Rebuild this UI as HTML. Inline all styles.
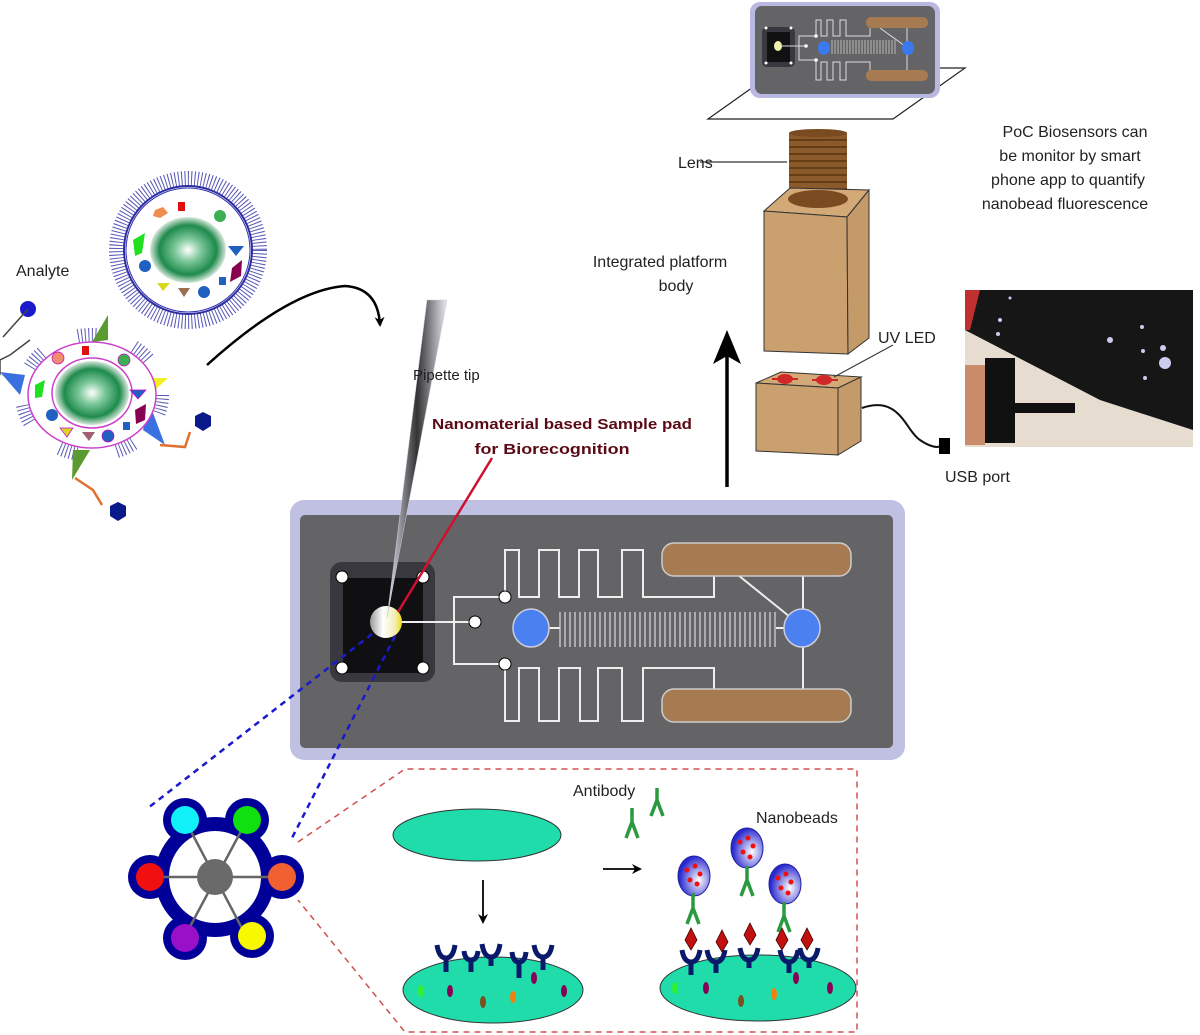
<!DOCTYPE html>
<html><head><meta charset="utf-8"><style>
html,body{margin:0;padding:0;background:#fff;}
svg{display:block;}
text{font-family:"Liberation Sans",sans-serif;}
</style></head><body>
<svg width="1200" height="1035" viewBox="0 0 1200 1035" xmlns="http://www.w3.org/2000/svg">
<defs>
<radialGradient id="core" cx="50%" cy="50%" r="50%"><stop offset="0" stop-color="#fff"/><stop offset="0.35" stop-color="#7cc79a"/><stop offset="0.75" stop-color="#1e8a4c"/><stop offset="1" stop-color="#d8e8dc"/></radialGradient>
<linearGradient id="pip" x1="0" x2="1"><stop offset="0" stop-color="#e0e0ee"/><stop offset="0.5" stop-color="#333"/><stop offset="1" stop-color="#e8e8f2"/></linearGradient>
<linearGradient id="padc" x1="0" x2="1"><stop offset="0" stop-color="#999"/><stop offset="0.4" stop-color="#fff"/><stop offset="0.8" stop-color="#f2ecb0"/><stop offset="1" stop-color="#ece000"/></linearGradient>
<radialGradient id="bead" cx="65%" cy="60%" r="60%"><stop offset="0" stop-color="#fff"/><stop offset="1" stop-color="#2a2ad0"/></radialGradient>
<linearGradient id="photo" x1="0" y1="0" x2="1" y2="1"><stop offset="0" stop-color="#2a2a2a"/><stop offset="1" stop-color="#e8e0d4"/></linearGradient>
<marker id="ah" markerWidth="10" markerHeight="10" refX="8" refY="5" orient="auto" markerUnits="userSpaceOnUse"><path d="M0,0 L10,5 L0,10 L3,5 z" fill="#000"/></marker>
</defs>

<!-- Analyte top particle -->
<g>
<circle cx="188" cy="250" r="70" fill="none" stroke="#5a5ab8" stroke-width="18" stroke-dasharray="1 2.2"/>
<circle cx="188" cy="250" r="64" fill="#fff" stroke="#2d2da0" stroke-width="2"/>
<circle cx="188" cy="250" r="62" fill="none" stroke="#3030b0" stroke-width="1"/>
<ellipse cx="188" cy="250" rx="38" ry="33" fill="url(#core)"/>
<rect x="178" y="202" width="7" height="9" fill="#e01010"/>
<polygon points="155,210 163,207 168,213 160,218 153,216" fill="#f08c50"/>
<circle cx="220" cy="216" r="6" fill="#3cb050"/>
<polygon points="133,240 145,233 142,253 135,256" fill="#20e020"/>
<polygon points="228,246 244,246 236,256" fill="#2060c0"/>
<polygon points="232,268 242,260 241,276 230,282" fill="#8a0050"/>
<circle cx="145" cy="266" r="6" fill="#2060c0"/>
<polygon points="157,283 170,283 163,291" fill="#d8d820"/>
<polygon points="178,288 190,288 184,297" fill="#9a7050"/>
<circle cx="204" cy="292" r="6" fill="#2060c0"/>
<rect x="219" y="277" width="7" height="8" fill="#2060c0"/>
</g>
<text x="16" y="276" font-size="16" fill="#222">Analyte</text>

<!-- Analyte bottom particle -->
<g>
<ellipse cx="92" cy="395" rx="70" ry="60" fill="none" stroke="#5a5ab8" stroke-width="14" stroke-dasharray="1 2.5 1 2.5 1 2.5 1 2.5 1 2.5 1 40"/>
<polygon points="92,342 108,315 108,340" fill="#5a9a30"/>
<polygon points="73,450 90,450 72,480" fill="#5a9a30"/>
<polygon points="0,372 25,375 20,395" fill="#3a70e0"/>
<polygon points="143,430 150,405 165,445" fill="#3a70e0"/>
<polygon points="150,378 168,378 155,390" fill="#f0f020"/>
<polyline points="30,340 10,355 0,360 0,375" fill="none" stroke="#444" stroke-width="1.5"/>
<circle cx="28" cy="309" r="8" fill="#1a1acc"/>
<line x1="28" y1="309" x2="3" y2="337" stroke="#444" stroke-width="1.5"/>
<polyline points="160,445 185,447 190,432" fill="none" stroke="#e07030" stroke-width="2.5"/>
<polygon points="203,412 211,416 211,426 203,431 195,426 195,416" fill="#0a1a8a"/>
<polyline points="75,478 93,490 102,505" fill="none" stroke="#e07030" stroke-width="2.5"/>
<polygon points="118,502 126,506 126,516 118,521 110,516 110,506" fill="#0a1a8a"/>
<ellipse cx="92" cy="395" rx="64" ry="53" fill="#fff" stroke="#cc40cc" stroke-width="1.5"/>
<ellipse cx="92" cy="393" rx="40" ry="35" fill="none" stroke="#cc40cc" stroke-width="1.5"/>
<ellipse cx="92" cy="393" rx="37" ry="32" fill="url(#core)"/>
<rect x="82" y="346" width="7" height="9" fill="#e01010"/>
<circle cx="58" cy="358" r="6" fill="#f08c70" stroke="#c0c" stroke-width="0.7"/>
<circle cx="124" cy="360" r="6" fill="#3cb050" stroke="#c0c" stroke-width="0.7"/>
<polygon points="35,385 45,380 42,397 35,398" fill="#20e020"/>
<polygon points="130,390 146,390 138,399" fill="#2060c0" stroke="#c0c" stroke-width="0.7"/>
<polygon points="135,410 146,404 145,420 136,424" fill="#8a0050"/>
<circle cx="52" cy="415" r="6" fill="#2060c0"/>
<polygon points="60,428 73,428 67,437" fill="#d8d820" stroke="#c0c" stroke-width="0.7"/>
<polygon points="82,432 95,432 89,441" fill="#a06070"/>
<circle cx="108" cy="436" r="6" fill="#2060c0" stroke="#c0c" stroke-width="0.7"/>
<rect x="123" y="422" width="7" height="8" fill="#2060c0"/>
</g>

<!-- curved arrow -->
<path d="M207,365 Q290,290 345,286 Q378,288 380,325" fill="none" stroke="#000" stroke-width="2.5" marker-end="url(#ah)"/>

<!-- Chip -->
<rect x="290" y="500" width="615" height="260" rx="14" fill="#c0c0e2"/>
<rect x="300" y="515" width="593" height="233" rx="5" fill="#646466"/>
<rect x="330" y="562" width="105" height="120" rx="12" fill="#38383e"/>
<rect x="343" y="578" width="80" height="95" fill="#101012"/>
<circle cx="342" cy="577" r="6" fill="#fff" stroke="#000"/>
<circle cx="423" cy="577" r="6" fill="#fff" stroke="#000"/>
<circle cx="342" cy="668" r="6" fill="#fff" stroke="#000"/>
<circle cx="423" cy="668" r="6" fill="#fff" stroke="#000"/>
<g stroke="#eee" stroke-width="2" fill="none">
<line x1="400" y1="622" x2="475" y2="622"/>
<polyline points="505,597 454,597 454,664 505,664"/>
<path d="M505,597 V550 H519 V597 H539 V550 H559 V597 H579 V550 H598 V597 H622 V550 H643 V597 H714 V575"/>
<path d="M505,664 V721 H519 V668 H539 V721 H559 V668 H580 V721 H598 V668 H622 V721 H643 V668 H714 V689"/>
<line x1="738" y1="575" x2="800" y2="625"/>
<line x1="803" y1="575" x2="803" y2="689"/>
<line x1="548" y1="628" x2="560" y2="628"/>
<line x1="776" y1="628" x2="785" y2="628"/>
</g>
<g stroke="#ddd" stroke-width="1.2">
<path d="M560,612V647M565,612V647M570,612V647M575,612V647M580,612V647M585,612V647M590,612V647M595,612V647M600,612V647M605,612V647M610,612V647M615,612V647M620,612V647M625,612V647M630,612V647M635,612V647M640,612V647M645,612V647M650,612V647M655,612V647M660,612V647M665,612V647M670,612V647M675,612V647M680,612V647M685,612V647M690,612V647M695,612V647M700,612V647M705,612V647M710,612V647M715,612V647M720,612V647M725,612V647M730,612V647M735,612V647M740,612V647M745,612V647M750,612V647M755,612V647M760,612V647M765,612V647M770,612V647M775,612V647"/>
</g>
<circle cx="475" cy="622" r="6" fill="#fff" stroke="#000"/>
<circle cx="505" cy="597" r="6" fill="#fff" stroke="#000"/>
<circle cx="505" cy="664" r="6" fill="#fff" stroke="#000"/>
<ellipse cx="531" cy="628" rx="18" ry="19" fill="#4a80f0" stroke="#ccd" stroke-width="1.5"/>
<ellipse cx="802" cy="628" rx="18" ry="19" fill="#4a80f0" stroke="#ccd" stroke-width="1.5"/>
<rect x="662" y="543" width="189" height="33" rx="12" fill="#a67b52" stroke="#ccc" stroke-width="1.5"/>
<rect x="662" y="689" width="189" height="33" rx="12" fill="#a67b52" stroke="#ccc" stroke-width="1.5"/>
<circle cx="386" cy="622" r="16" fill="url(#padc)"/>

<!-- pipette -->
<polygon points="427,300 447,300 387,618" fill="url(#pip)" stroke="#ccd" stroke-width="0.5"/>
<line x1="492" y1="458" x2="398" y2="612" stroke="#d01030" stroke-width="2.5"/>
<text x="413" y="380" font-size="15" fill="#222">Pipette tip</text>
<text x="562" y="429" font-size="15" font-weight="bold" fill="#5a0a14" text-anchor="middle" textLength="260" lengthAdjust="spacingAndGlyphs">Nanomaterial based Sample pad</text>
<text x="552" y="454" font-size="15" font-weight="bold" fill="#5a0a14" text-anchor="middle" textLength="155" lengthAdjust="spacingAndGlyphs">for Biorecognition</text>

<!-- blue dashed -->
<line x1="372" y1="634" x2="148" y2="808" stroke="#1a1acc" stroke-width="2.5" stroke-dasharray="6 5"/>
<line x1="395" y1="636" x2="292" y2="838" stroke="#1a1acc" stroke-width="2.5" stroke-dasharray="6 5"/>

<!-- hexagon wheel -->
<g>
<circle cx="215" cy="877" r="60" fill="#000099"/>
<circle cx="185" cy="820" r="22" fill="#000099"/><circle cx="247" cy="820" r="22" fill="#000099"/>
<circle cx="282" cy="877" r="22" fill="#000099"/><circle cx="252" cy="936" r="22" fill="#000099"/>
<circle cx="185" cy="938" r="22" fill="#000099"/><circle cx="150" cy="877" r="22" fill="#000099"/>
<circle cx="215" cy="877" r="46" fill="#fff"/>
<g stroke="#666" stroke-width="2.5"><line x1="185" y1="820" x2="245" y2="934"/><line x1="247" y1="820" x2="185" y2="936"/><line x1="150" y1="877" x2="282" y2="877"/></g>
<circle cx="215" cy="877" r="18" fill="#6a6a6a"/>
<circle cx="185" cy="820" r="14" fill="#10f0f8"/><circle cx="247" cy="820" r="14" fill="#10e010"/>
<circle cx="282" cy="877" r="14" fill="#f06030"/><circle cx="252" cy="936" r="14" fill="#f8f800"/>
<circle cx="185" cy="938" r="14" fill="#9a10c8"/><circle cx="150" cy="877" r="14" fill="#f01010"/>
</g>

<!-- red dashed box -->
<g stroke="#d05050" stroke-width="1.5" stroke-dasharray="6 5" fill="none">
<polyline points="298,842 405,769 857,769 857,1032 405,1032 298,900"/>
</g>
<ellipse cx="477" cy="835" rx="84" ry="26" fill="#20dcaa" stroke="#333"/>
<line x1="483" y1="880" x2="483" y2="922" stroke="#000" stroke-width="1.8" marker-end="url(#ah)"/>
<line x1="603" y1="869" x2="640" y2="869" stroke="#000" stroke-width="1.8" marker-end="url(#ah)"/>
<ellipse cx="493" cy="990" rx="90" ry="33" fill="#20dcaa" stroke="#333"/>
<ellipse cx="758" cy="988" rx="98" ry="33" fill="#20dcaa" stroke="#333"/>
<g fill="#880055"><ellipse cx="450" cy="991" rx="3" ry="6"/><ellipse cx="534" cy="978" rx="3" ry="6"/><ellipse cx="564" cy="991" rx="3" ry="6"/><ellipse cx="706" cy="988" rx="3" ry="6"/><ellipse cx="796" cy="978" rx="3" ry="6"/><ellipse cx="830" cy="988" rx="3" ry="6"/></g>
<g fill="#7a5020"><ellipse cx="483" cy="1002" rx="3" ry="6"/><ellipse cx="741" cy="1001" rx="3" ry="6"/></g>
<g fill="#f08010"><ellipse cx="513" cy="997" rx="3" ry="6"/><ellipse cx="774" cy="994" rx="3" ry="6"/></g>
<g fill="#30f030"><ellipse cx="421" cy="991" rx="3" ry="6"/><ellipse cx="675" cy="988" rx="3" ry="6"/></g>
<!-- navy Y antibodies -->
<g stroke="#0a1a6a" stroke-width="5" fill="none" stroke-linecap="butt">
<path d="M437,945 Q439,958 446,958 Q453,958 455,945 M446,958 V972"/>
<path d="M464,951 Q465,960 471,960 Q477,960 478,951 M471,960 V972"/>
<path d="M482,944 Q484,957 491,957 Q498,957 500,944 M491,957 V966"/>
<path d="M512,952 Q513,962 519,962 Q525,962 526,952 M519,962 V978"/>
<path d="M534,945 Q536,957 543,957 Q550,957 552,945 M543,957 V970"/>
<path d="M682,950 Q684,962 691,962 Q698,962 700,950 M691,962 V975"/>
<path d="M707,950 Q709,962 716,962 Q723,962 725,950 M716,962 V973"/>
<path d="M740,948 Q742,960 749,960 Q756,960 758,948 M749,960 V968"/>
<path d="M780,950 Q782,962 789,962 Q796,962 798,950 M789,962 V973"/>
<path d="M800,948 Q802,960 809,960 Q816,960 818,948 M809,960 V968"/>
</g>
<g fill="#c01010" stroke="#400" stroke-width="0.8">
<polygon points="691,928 697,940 691,950 685,940"/><polygon points="722,930 728,942 722,952 716,942"/>
<polygon points="750,923 756,935 750,945 744,935"/><polygon points="782,928 788,940 782,950 776,940"/>
<polygon points="807,928 813,940 807,950 801,940"/>
</g>
<!-- beads -->
<ellipse cx="694" cy="876" rx="16" ry="20" fill="url(#bead)" stroke="#2020a0"/>
<ellipse cx="747" cy="848" rx="16" ry="20" fill="url(#bead)" stroke="#2020a0"/>
<ellipse cx="785" cy="884" rx="16" ry="20" fill="url(#bead)" stroke="#2020a0"/>
<g fill="#f01010"><circle cx="687" cy="870" r="2.5"/><circle cx="695" cy="866" r="2.5"/><circle cx="700" cy="874" r="2.5"/><circle cx="690" cy="880" r="2.5"/><circle cx="697" cy="884" r="2.5"/>
<circle cx="740" cy="842" r="2.5"/><circle cx="748" cy="838" r="2.5"/><circle cx="753" cy="846" r="2.5"/><circle cx="743" cy="852" r="2.5"/><circle cx="750" cy="857" r="2.5"/>
<circle cx="778" cy="878" r="2.5"/><circle cx="786" cy="874" r="2.5"/><circle cx="791" cy="882" r="2.5"/><circle cx="781" cy="888" r="2.5"/><circle cx="788" cy="893" r="2.5"/></g>
<g stroke="#2a9a40" stroke-width="3.5" fill="none">
<path d="M693,893 V908 M693,908 L687,924 M693,908 L699,924"/>
<path d="M747,866 V880 M747,880 L741,896 M747,880 L753,896"/>
<path d="M784,902 V916 M784,916 L778,932 M784,916 L790,932"/>
<path d="M632,826 V840 M632,840 L626,856 M632,840 L638,856" transform="translate(0,-18)"/>
<path d="M657,788 V800 M657,800 L651,816 M657,800 L663,816"/>
</g>
<text x="573" y="796" font-size="16" fill="#222">Antibody</text>
<text x="756" y="823" font-size="16" fill="#222">Nanobeads</text>

<!-- Top device -->
<polygon points="708,119 893,119 965,68 780,68" fill="#fff" stroke="#222" stroke-width="1.2"/>
<rect x="750" y="2" width="190" height="96" rx="10" fill="#b8b8e0"/>
<rect x="755" y="6" width="180" height="88" rx="7" fill="#646466"/>
<rect x="762" y="27" width="33" height="40" rx="5" fill="#38383e"/>
<rect x="767" y="32" width="23" height="30" fill="#111"/>
<ellipse cx="778" cy="46" rx="4" ry="5" fill="#f0f0b0"/>
<g stroke="#ddd" stroke-width="1" fill="none">
<line x1="782" y1="46" x2="806" y2="46"/><polyline points="816,36 799,36 799,60 816,60"/>
<path d="M816,36 V20 H821 V36 H827 V20 H833 V36 H840 V20 H846 V36 H870 V28"/>
<path d="M816,60 V80 H821 V62 H827 V80 H833 V62 H840 V80 H846 V62 H870 V72"/>
<line x1="880" y1="28" x2="905" y2="46"/><line x1="907" y1="28" x2="907" y2="72"/>
</g>
<rect x="828" y="49" width="70" height="0" stroke="#ccc"/>
<g stroke="#ccc" stroke-width="0.8"><path d="M832,40V54M835,40V54M838,40V54M841,40V54M844,40V54M847,40V54M850,40V54M853,40V54M856,40V54M859,40V54M862,40V54M865,40V54M868,40V54M871,40V54M874,40V54M877,40V54M880,40V54M883,40V54M886,40V54M889,40V54M892,40V54M895,40V54"/></g>
<ellipse cx="824" cy="48" rx="6" ry="7" fill="#3a7af0"/><ellipse cx="908" cy="48" rx="6" ry="7" fill="#3a7af0"/>
<rect x="866" y="17" width="62" height="11" rx="5" fill="#a67b52"/>
<rect x="866" y="70" width="62" height="11" rx="5" fill="#a67b52"/>
<g fill="#fff"><circle cx="766" cy="28" r="1.5"/><circle cx="791" cy="28" r="1.5"/><circle cx="766" cy="63" r="1.5"/><circle cx="791" cy="63" r="1.5"/><circle cx="806" cy="46" r="1.8"/><circle cx="816" cy="36" r="1.8"/><circle cx="816" cy="60" r="1.8"/></g>

<!-- lens -->
<rect x="789" y="133" width="58" height="68" fill="#8b5a2b"/>
<g stroke="#5a3510" stroke-width="1.5"><line x1="789" y1="140" x2="847" y2="140"/><line x1="789" y1="147" x2="847" y2="147"/><line x1="789" y1="154" x2="847" y2="154"/><line x1="789" y1="161" x2="847" y2="161"/><line x1="789" y1="168" x2="847" y2="168"/><line x1="789" y1="175" x2="847" y2="175"/><line x1="789" y1="182" x2="847" y2="182"/><line x1="789" y1="189" x2="847" y2="189"/></g>
<ellipse cx="818" cy="133" rx="29" ry="4" fill="#7a4a20"/>
<line x1="700" y1="162" x2="787" y2="162" stroke="#333" stroke-width="1.2"/>
<text x="678" y="168" font-size="16" fill="#222">Lens</text>

<!-- tall box -->
<polygon points="764,211 790,188 869,190 847,217" fill="#d4a978" stroke="#333"/>
<ellipse cx="818" cy="199" rx="30" ry="9" fill="#7a4a20"/>
<polygon points="764,211 847,217 848,354 764,351" fill="#c9a06e" stroke="#333"/>
<polygon points="847,217 869,190 869,338 848,354" fill="#c39a68" stroke="#333"/>
<text x="660" y="267" font-size="16" fill="#222" text-anchor="middle">Integrated platform</text>
<text x="676" y="291" font-size="16" fill="#222" text-anchor="middle">body</text>

<!-- small box -->
<polygon points="756,383 781,372 861,377 838,388" fill="#d4a978" stroke="#333"/>
<polygon points="756,383 838,388 838,455 756,451" fill="#c9a06e" stroke="#333"/>
<polygon points="838,388 861,377 861,441 838,455" fill="#c39a68" stroke="#333"/>
<g fill="#d02828"><ellipse cx="785" cy="379" rx="8" ry="5"/><ellipse cx="824" cy="380" rx="8" ry="5"/><rect x="772" y="378" width="26" height="2"/><rect x="812" y="379" width="26" height="2"/></g>
<line x1="893" y1="345" x2="834" y2="377" stroke="#333"/>
<text x="878" y="343" font-size="16" fill="#222">UV LED</text>
<path d="M862,408 C900,395 905,430 920,440 C930,447 938,448 940,446" fill="none" stroke="#111" stroke-width="2"/>
<rect x="939" y="438" width="11" height="16" fill="#000"/>
<text x="945" y="482" font-size="16" fill="#222">USB port</text>

<!-- up arrow -->
<line x1="727" y1="487" x2="727" y2="350" stroke="#000" stroke-width="3.5"/>
<polygon points="727,330 741,364 727,356 713,364" fill="#000"/>

<!-- text block -->
<g font-size="16" fill="#222" text-anchor="middle">
<text x="1075" y="137">PoC Biosensors can</text>
<text x="1070" y="161">be monitor by smart</text>
<text x="1068" y="185">phone app to quantify</text>
<text x="1065" y="209">nanobead fluorescence</text>
</g>

<!-- photo -->
<rect x="965" y="290" width="228" height="157" fill="#e6ddd0"/>
<polygon points="965,290 1193,290 1193,430 1100,400 965,330" fill="#161616"/>
<polygon points="965,290 980,290 970,330 965,330" fill="#c03030"/>
<rect x="985" y="358" width="30" height="85" fill="#111"/>
<rect x="965" y="365" width="20" height="80" fill="#c88c6c"/>
<rect x="1015" y="403" width="60" height="10" fill="#111"/>
<g fill="#cce"><circle cx="998" cy="334" r="2"/><circle cx="1000" cy="320" r="2"/><circle cx="1010" cy="298" r="1.5"/><circle cx="1110" cy="340" r="3"/><circle cx="1165" cy="363" r="6"/><circle cx="1163" cy="348" r="3"/><circle cx="1142" cy="327" r="2"/><circle cx="1143" cy="351" r="2"/><circle cx="1145" cy="378" r="2"/></g>
</svg>
</body></html>
